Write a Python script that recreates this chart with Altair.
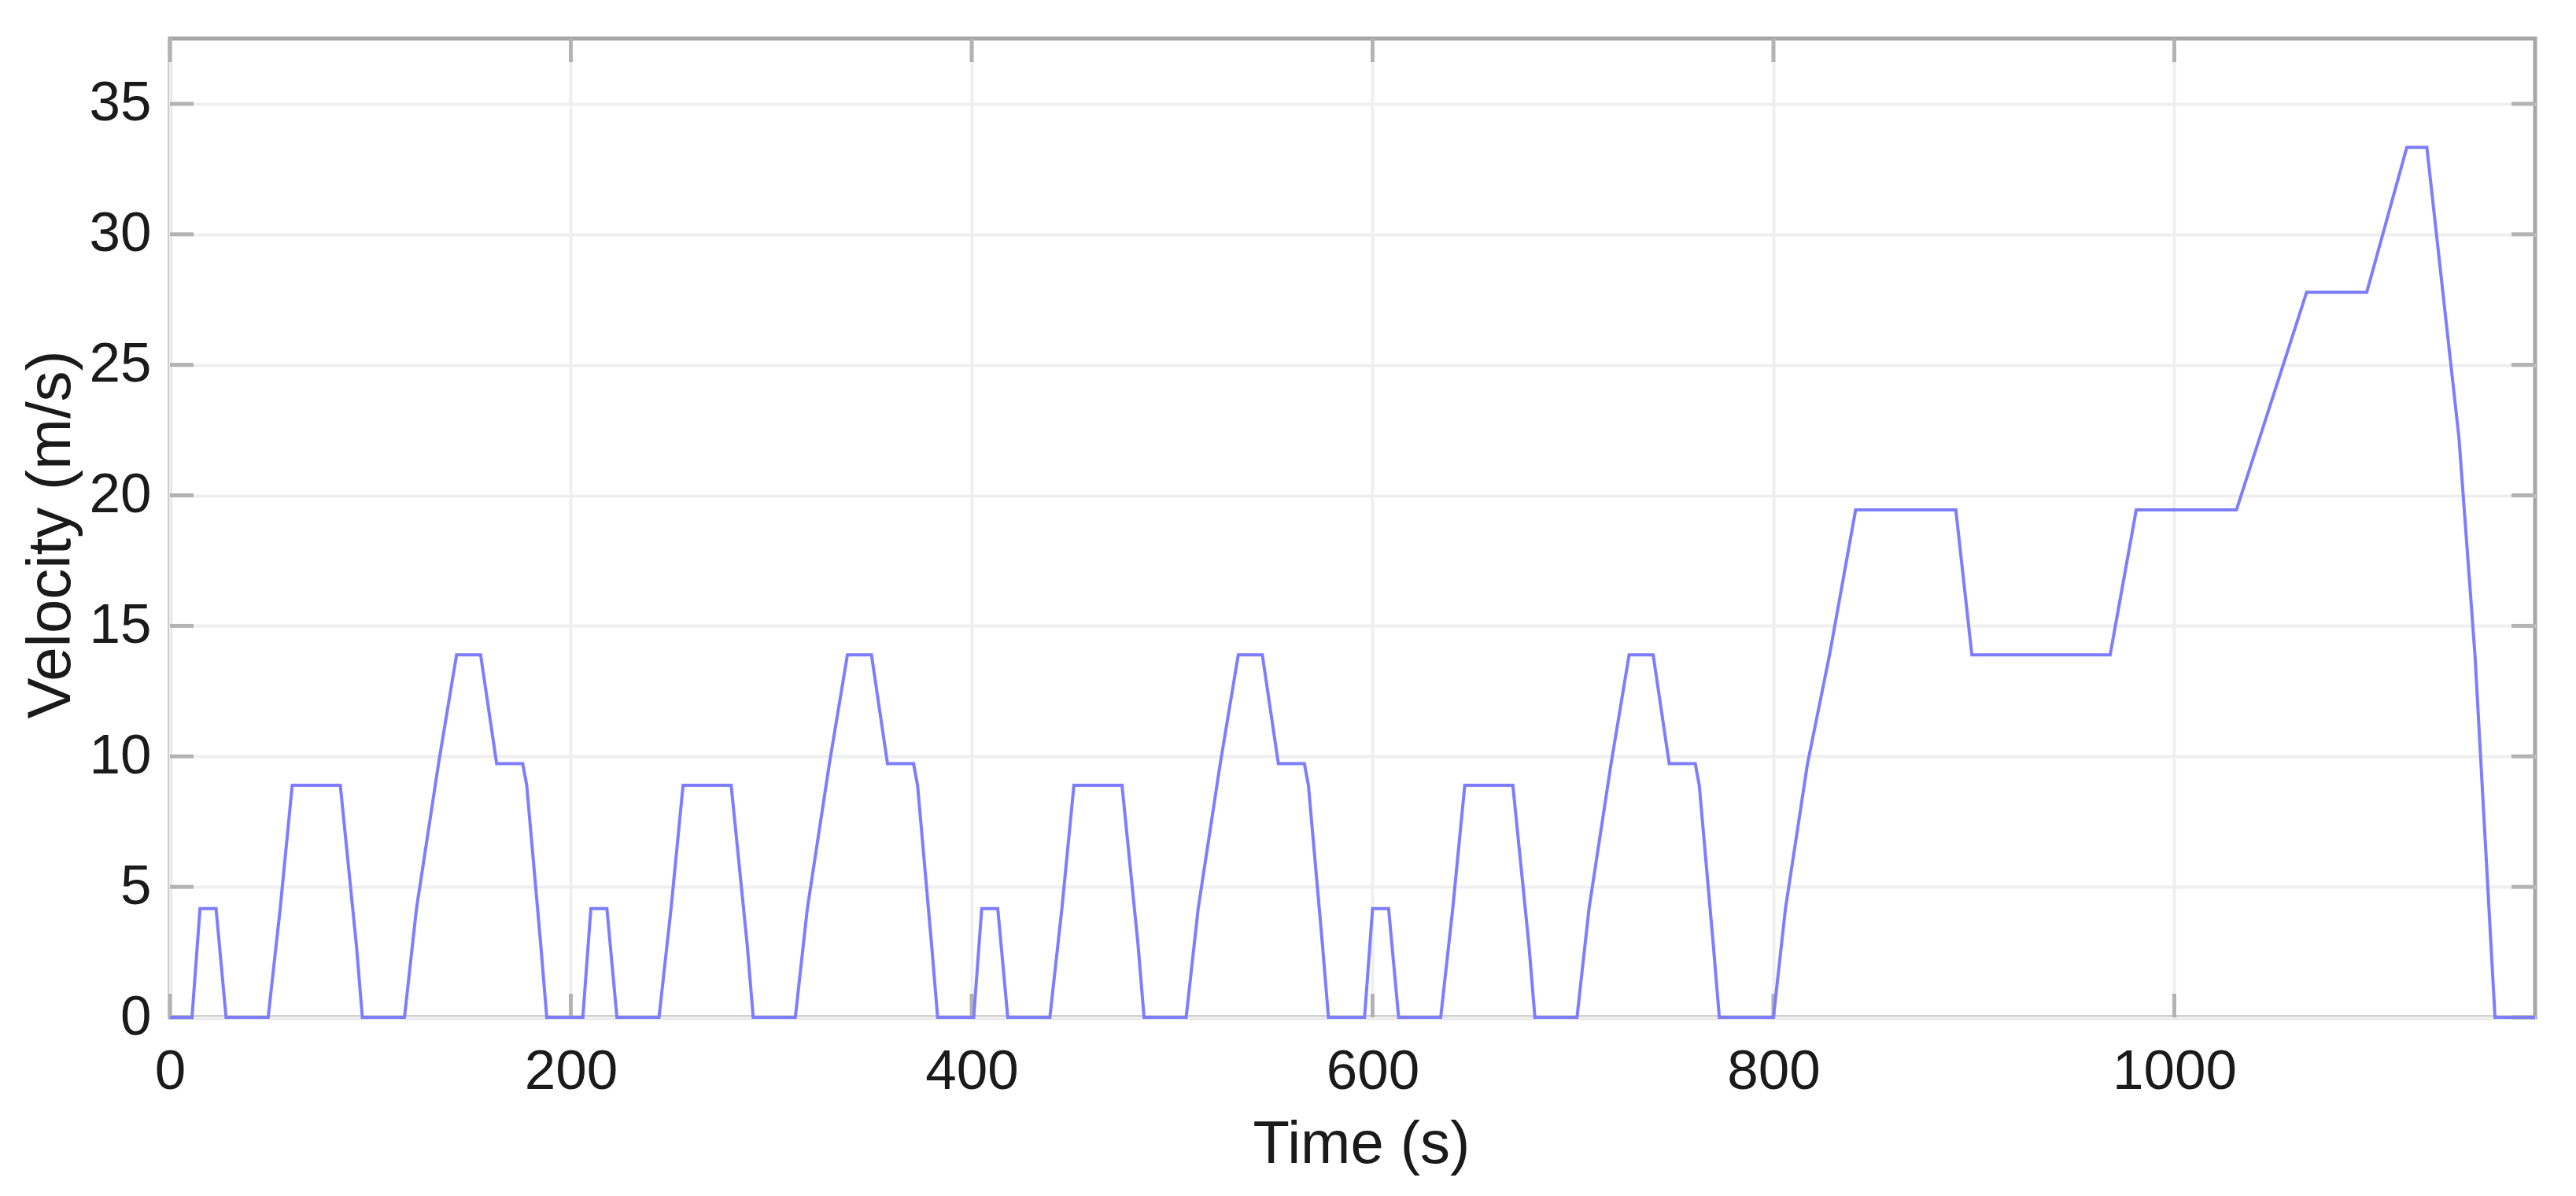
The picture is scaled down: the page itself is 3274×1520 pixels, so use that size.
import altair as alt
import pandas as pd

# NEDC velocity profile (time in s, velocity in m/s)
time_s = [
    0, 11, 15, 23, 28, 49, 55, 61, 85, 93, 96, 117, 123, 134, 143, 155, 163, 176, 178, 185, 188,
    206, 210, 218, 223, 244, 250, 256, 280, 288, 291, 312, 318, 329, 338, 350, 358, 371, 373, 380, 383,
    401, 405, 413, 418, 439, 445, 451, 475, 483, 486, 507, 513, 524, 533, 545, 553, 566, 568, 575, 578,
    596, 600, 608, 613, 634, 640, 646, 670, 678, 681, 702, 708, 719, 728, 740, 748, 761, 763, 770, 773,
    800, 806, 817, 828, 841, 891, 899, 968, 981, 1031, 1066, 1096, 1116, 1126, 1142, 1150, 1160, 1180,
]
velocity_ms = [
    0, 0, 4.17, 4.17, 0, 0, 4.17, 8.89, 8.89, 2.78, 0, 0, 4.17, 9.72, 13.89, 13.89, 9.72, 9.72, 8.89, 2.78, 0,
    0, 4.17, 4.17, 0, 0, 4.17, 8.89, 8.89, 2.78, 0, 0, 4.17, 9.72, 13.89, 13.89, 9.72, 9.72, 8.89, 2.78, 0,
    0, 4.17, 4.17, 0, 0, 4.17, 8.89, 8.89, 2.78, 0, 0, 4.17, 9.72, 13.89, 13.89, 9.72, 9.72, 8.89, 2.78, 0,
    0, 4.17, 4.17, 0, 0, 4.17, 8.89, 8.89, 2.78, 0, 0, 4.17, 9.72, 13.89, 13.89, 9.72, 9.72, 8.89, 2.78, 0,
    0, 4.17, 9.72, 13.89, 19.44, 19.44, 13.89, 13.89, 19.44, 19.44, 27.78, 27.78, 33.33, 33.33, 22.22, 13.89, 0, 0,
]
x_ticks = [0, 200, 400, 600, 800, 1000]
y_ticks = [0, 5, 10, 15, 20, 25, 30, 35]

W, H = 3006, 1244
FONT = "Liberation Sans"
TICK_LEN = 30
TICK_COLOR = "#b3b3b3"
GRID_COLOR = "#efefef"

df = pd.DataFrame({"t": time_s, "v": velocity_ms})
xt = pd.DataFrame({"xt": x_ticks})
yt = pd.DataFrame({"yt": y_ticks})

xscale = alt.Scale(domain=[0, 1180], nice=False, zero=False)
yscale = alt.Scale(domain=[0, 37.5], nice=False)

line = alt.Chart(df).mark_line(color="#7d7dff", strokeWidth=4).encode(
    x=alt.X(
        "t:Q",
        scale=xscale,
        axis=alt.Axis(
            title="Time (s)",
            values=x_ticks,
            format="d",
            grid=True,
            gridColor=GRID_COLOR,
            gridWidth=4,
            ticks=False,
            tickSize=0,
            domain=False,
            labelFont=FONT,
            labelFontSize=71,
            labelColor="#1a1a1a",
            labelBaseline="alphabetic",
            labelPadding=90,
            labelFlush=False,
            titleFont=FONT,
            titleFontSize=76,
            titleFontWeight="normal",
            titleColor="#1a1a1a",
            titleBaseline="alphabetic",
            titleX=1514,
            titleY=184,
        ),
    ),
    y=alt.Y(
        "v:Q",
        scale=yscale,
        axis=alt.Axis(
            title="Velocity (m/s)",
            values=y_ticks,
            grid=True,
            gridColor=GRID_COLOR,
            gridWidth=4,
            ticks=False,
            tickSize=0,
            domain=False,
            labelFont=FONT,
            labelFontSize=71,
            labelColor="#1a1a1a",
            labelPadding=24,
            labelFlush=False,
            titleFont=FONT,
            titleFontSize=78,
            titleFontWeight="normal",
            titleColor="#1a1a1a",
            titleBaseline="alphabetic",
            titleAngle=270,
            titleAlign="center",
            titleX=-128,
            titleY=630,
        ),
    ),
)

bottom_ticks = alt.Chart(xt).mark_rule(color=TICK_COLOR, strokeWidth=5).encode(
    x=alt.X("xt:Q", scale=xscale), y=alt.value(H), y2=alt.value(H - TICK_LEN)
)
top_ticks = alt.Chart(xt).mark_rule(color=TICK_COLOR, strokeWidth=5).encode(
    x=alt.X("xt:Q", scale=xscale), y=alt.value(0), y2=alt.value(TICK_LEN)
)
left_ticks = alt.Chart(yt).mark_rule(color=TICK_COLOR, strokeWidth=5).encode(
    y=alt.Y("yt:Q", scale=yscale), x=alt.value(0), x2=alt.value(TICK_LEN)
)
right_ticks = alt.Chart(yt).mark_rule(color=TICK_COLOR, strokeWidth=5).encode(
    y=alt.Y("yt:Q", scale=yscale), x=alt.value(W), x2=alt.value(W - TICK_LEN)
)

chart = (
    alt.layer(bottom_ticks, top_ticks, left_ticks, right_ticks, line)
    .properties(
        width=W,
        height=H,
        autosize=alt.AutoSizeParams(type="none"),
        padding={"left": 208, "top": 41, "right": 44, "bottom": 205},
        background="white",
    )
    .configure_view(stroke="#a6a6a6", strokeWidth=5)
)

chart.save("out.html", embed_options={"renderer": "svg", "actions": False})
